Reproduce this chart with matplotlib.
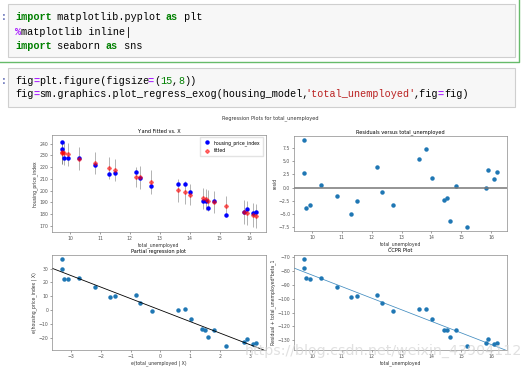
import numpy as np
import matplotlib
matplotlib.use("Agg")
import matplotlib.pyplot as plt
from matplotlib.patches import Rectangle

# values
unemployed = [9.72, 9.72, 9.81, 9.92, 10.30, 10.82, 11.30, 11.51, 12.19, 12.33, 12.71, 13.60,
              13.83, 14.01, 14.43, 14.53, 14.62, 14.82, 15.21, 15.83, 15.91, 16.11, 16.21]
price_index = [241.5, 235.2, 227.8, 227.5, 227.8, 221.8, 214.1, 215.2, 215.8, 210.4, 204.0, 205.4,
               205.7, 198.3, 191.1, 190.6, 185.1, 190.6, 178.9, 181.4, 184.3, 180.8, 181.2]
resid = [8.97, 2.76, -3.90, -3.33, 0.45, -1.60, -4.94, -2.56, 3.97, -0.77, -3.40, 5.38,
         7.37, 1.79, -2.44, -1.92, -6.35, 0.38, -7.44, -0.13, 3.40, 1.60, 3.00]
pi_half = [9.5, 9.5, 9.5, 10.0, 9.5, 9.5, 9.4, 9.2, 8.5, 9.5, 10.0, 10.0,
           9.5, 9.0, 9.0, 9.0, 9.0, 9.3, 9.1, 10.0, 10.2, 10.4, 10.0]
e_unemployed = [-3.31, -3.31, -3.23, -3.10, -2.72, -2.21, -1.70, -1.51, -0.82, -0.69, -0.28, 0.59,
                0.81, 1.01, 1.40, 1.51, 1.61, 1.81, 2.21, 2.80, 2.89, 3.09, 3.20]
e_price = [36.7, 30.0, 22.7, 22.7, 22.9, 16.9, 9.4, 9.9, 10.6, 5.1, -0.7, 0.5,
           0.7, -6.5, -13.8, -14.3, -19.3, -14.5, -25.6, -23.2, -20.8, -24.2, -23.9]

x = np.array(unemployed)
y = np.array(price_index)
res = np.array(resid)
fitted = y - res
half = np.array(pi_half)
slope, icpt = np.polyfit(e_unemployed, e_price, 1)

W, H = 525, 370
fig = plt.figure(figsize=(W / 100, H / 100), dpi=100)
fig.patch.set_facecolor("white")


def px_axes(l, t, r, b):
    return fig.add_axes([l / W, 1 - b / H, (r - l) / W, (b - t) / H])


def add_line(ax, x0, y0, k, **kw):
    # keep the data limits, the line runs to the frame
    xl, yl = ax.get_xlim(), ax.get_ylim()
    ax.axline((x0, y0), slope=k, **kw)
    ax.set_xlim(xl)
    ax.set_ylim(yl)


# notebook cells in pixel coordinates
bg = fig.add_axes([0, 0, 1, 1], zorder=-5)
bg.set_xlim(0, W)
bg.set_ylim(H, 0)
bg.axis("off")
bg.add_patch(Rectangle((8, 4), 507, 53, facecolor="#f7f7f7", edgecolor="#cfcfcf", lw=0.8))
bg.add_patch(Rectangle((8, 68), 507, 39, facecolor="#f7f7f7", edgecolor="#cfcfcf", lw=0.8))
bg.plot([0, 519, 519], [61.5, 61.5, 0], color="#66bb6a", lw=1.0)
bg.text(1, 17, ":", color="#303f9f", fontsize=7, va="center", ha="left", family="Liberation Mono")
bg.text(1, 81, ":", color="#303f9f", fontsize=7, va="center", ha="left", family="Liberation Mono")

green, purple, red, black = "#008000", "#aa22ff", "#ba2121", "#000000"
code_lines = [
    (17, [("import", green, True), (" matplotlib.pyplot ", black, False), ("as", green, True), (" plt", black, False)]),
    (32, [("%", purple, True), ("matplotlib inline", black, False)]),
    (46, [("import", green, True), (" seaborn ", black, False), ("as", green, True), (" sns", black, False)]),
    (81, [("fig", black, False), ("=", purple, True), ("plt.figure(figsize", black, False), ("=", purple, True),
          ("(", black, False), ("15", green, False), (",", black, False), ("8", green, False), ("))", black, False)]),
    (94, [("fig", black, False), ("=", purple, True), ("sm.graphics.plot_regress_exog(housing_model,", black, False),
          ("'total_unemployed'", red, False), (",fig", black, False), ("=", purple, True), ("fig)", black, False)]),
]
cw = 6.04
for yy, toks in code_lines:
    pos = 0
    for txt, col, bold in toks:
        bg.text(15 + pos * cw, yy, txt, color=col, fontsize=7.25, family="Liberation Mono",
                fontweight="bold" if bold else "normal", va="center", ha="left")
        pos += len(txt)
bg.plot([127.5, 127.5], [27, 37], color="black", lw=0.6)

fs = 3.3
tfs = 3.6
plt.rcParams.update({
    "font.size": fs,
    "axes.linewidth": 0.5,
    "axes.edgecolor": "#8a8a8a",
    "xtick.major.size": 1.5,
    "ytick.major.size": 1.5,
    "xtick.major.width": 0.4,
    "ytick.major.width": 0.4,
    "xtick.major.pad": 1.2,
    "ytick.major.pad": 1.2,
    "xtick.color": "#555555",
    "ytick.color": "#555555",
    "axes.labelpad": 1.0,
    "axes.titlepad": 1.8,
    "axes.labelcolor": "#333333",
})

fig.text(270 / W, 1 - 118 / H, "Regression Plots for total_unemployed", fontsize=tfs,
         ha="center", va="center", color="#333333")

ms = 2.2

# Y and fitted vs X
ax1 = px_axes(52, 135, 265.5, 232)
ax1.plot(x, y, "o", color="blue", ms=ms, label="housing_price_index", zorder=3)
ax1.plot(x, fitted, "D", color="red", alpha=0.5, ms=2.0, label="fitted", zorder=3)
ax1.vlines(x, fitted - half, fitted + half, color="#555555", alpha=0.7, lw=0.45)
ax1.set_ylim(164.5, 247.5)
ax1.set_yticks(np.arange(170, 241, 10))
ax1.set_title("Y and Fitted vs. X", fontsize=tfs)
ax1.set_xlabel("total_unemployed")
ax1.set_ylabel("housing_price_index")
ax1.legend(loc="upper right", fontsize=fs, handletextpad=0.4, borderpad=0.6, labelspacing=0.6,
           frameon=True, edgecolor="#dddddd", fancybox=False)

# residuals
ax2 = px_axes(294, 136, 507, 231)
ax2.plot(x, res, "o", color="C0", ms=ms)
ax2.axhline(0, color="#777777", lw=1.1)
ax2.set_yticks(np.arange(-7.5, 7.6, 2.5))
ax2.set_title("Residuals versus total_unemployed", fontsize=tfs)
ax2.set_xlabel("total_unemployed")
ax2.set_ylabel("resid")

# partial regression
ax3 = px_axes(52, 255, 265.5, 350)
ax3.plot(e_unemployed, e_price, "o", color="C0", ms=ms)
add_line(ax3, 0, icpt, slope, color="k", lw=0.6)
ax3.set_title("Partial regression plot", fontsize=tfs)
ax3.set_xlabel("e(total_unemployed | X)")
ax3.set_ylabel("e(housing_price_index | X)")

# CCPR
ccpr = res + slope * x
ax4 = px_axes(294, 255, 507, 350)
ax4.plot(x, ccpr, "o", color="C0", ms=ms)
add_line(ax4, 0, 0, slope, color="C0", lw=0.55, alpha=0.85)
ax4.set_title("CCPR Plot", fontsize=tfs)
ax4.set_xlabel("total_unemployed")
ax4.set_ylabel("Residual + total_unemployed*beta_1")

for ax in (ax1, ax2, ax3, ax4):
    ax.tick_params(labelsize=fs)

fig.text(245 / W, 1 - 351 / H, "https://blog.csdn.net/weixin_43904112", fontsize=10.3,
         color="#d4d4d4", alpha=0.7, ha="left", va="center", zorder=10)

fig.savefig("out.png", dpi=100)
